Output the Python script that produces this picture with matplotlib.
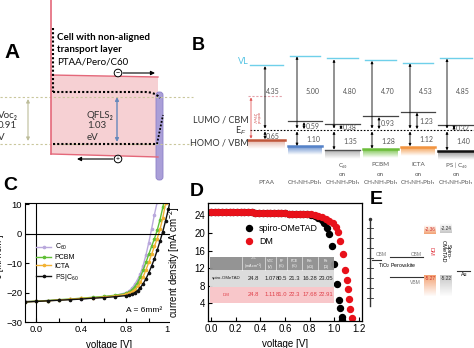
import numpy as np
import matplotlib
matplotlib.use('Agg')
import matplotlib.pyplot as plt
from matplotlib.patches import Polygon, Circle, FancyBboxPatch, Rectangle
from matplotlib.colors import to_rgb

W, H = 474, 348
plt.rcParams['font.family'] = ['Liberation Sans', 'DejaVu Sans']
plt.rcParams['mathtext.fontset'] = 'custom'
plt.rcParams['mathtext.rm'] = 'Liberation Sans'
plt.rcParams['mathtext.it'] = 'Liberation Sans:italic'
CAL = ['Lato', 'DejaVu Sans']

# ---- panel B: energy levels relative to E_F (eV) ----
b_layers = ['PTAA', 'CH₃NH₃PbI₃', 'C₆₀', 'PCBM', 'ICTA', 'PS | C₆₀']
b_vl = [4.35, 5.00, 4.80, 4.70, 4.53, 4.85]
b_cbm = [None, 0.59, 0.38, 0.93, 1.23, 0.32]
b_vbm = [0.65, 1.10, 1.35, 1.28, 1.12, 1.40]
b_gap_ptaa = 2.9
b_colors = ['#c0573a', '#5582c8', '#505050', '#6cbd3a', '#f29440', '#111111']

# ---- panel C: J-V curves ----
volt_c = [-0.1, 0.0, 0.1, 0.2, 0.3, 0.4, 0.5, 0.6, 0.7,
          0.8, 0.825, 0.85, 0.875, 0.9, 0.925, 0.95, 0.975, 1.0, 1.025,
          1.05, 1.075, 1.1, 1.125, 1.15, 1.175, 1.2, 1.225, 1.25]
j_c60 = [-23.0, -22.9, -22.7, -22.5, -22.3, -22.1, -21.8, -21.5, -21.0,
         -20.0, -19.4, -18.5, -17.2, -15.6, -13.6, -10.8, -7.2, -3.0, 1.6,
         6.5, 10.8, 16.0, 22.0, 28.0, 34.0, 40.0, 46.0, 52.0]
j_pcbm = [-23.1, -22.9, -22.7, -22.4, -22.2, -21.9, -21.6, -21.3, -20.9,
          -20.3, -19.8, -19.1, -18.0, -16.6, -14.7, -12.4, -9.7, -7.0, -4.3,
          -1.7, 1.2, 4.8, 9.0, 13.5, 18.0, 23.0, 28.0, 33.0]
j_icta = [-23.1, -23.0, -22.8, -22.5, -22.3, -22.0, -21.8, -21.5, -21.1,
          -20.6, -20.2, -19.7, -19.0, -17.9, -16.5, -14.6, -12.3, -9.7, -7.0,
          -4.3, -1.6, 1.5, 5.5, 10.5, 16.0, 22.0, 28.0, 34.0]
j_psc60 = [-23.2, -23.0, -22.8, -22.6, -22.4, -22.2, -21.9, -21.7, -21.4,
           -21.0, -20.8, -20.5, -20.0, -19.3, -18.3, -17.0, -15.3, -13.3, -11.0,
           -8.5, -5.6, -2.5, 0.8, 4.5, 8.5, 13.0, 18.0, 23.0]
c_labels = ['C$_{60}$', 'PCBM', 'ICTA', 'PS|C$_{60}$']
c_colors = ['#b9a8dc', '#5fbf35', '#f2b233', '#111111']

# ---- panel D: J-V curves ----
volt_spiro = [0.00, 0.03, 0.06, 0.09, 0.12, 0.15, 0.18, 0.21, 0.24, 0.27,
              0.30, 0.33, 0.36, 0.39, 0.42, 0.45, 0.48, 0.51, 0.54, 0.57,
              0.60, 0.63, 0.66, 0.69, 0.72, 0.75, 0.78, 0.81, 0.84, 0.87,
              0.90, 0.92, 0.94, 0.96, 0.98, 1.00, 1.02, 1.04, 1.05, 1.06, 1.065]
j_spiro = [24.8, 24.8, 24.8, 24.8, 24.8, 24.8, 24.7, 24.7, 24.7, 24.7,
           24.7, 24.7, 24.6, 24.6, 24.6, 24.6, 24.6, 24.5, 24.5, 24.5,
           24.5, 24.4, 24.4, 24.4, 24.3, 24.3, 24.2, 24.1, 23.9, 23.5,
           23.0, 22.2, 21.2, 19.8, 17.0, 13.0, 8.5, 4.8, 3.0, 1.0, 0.2]
volt_dm = [0.00, 0.03, 0.06, 0.09, 0.12, 0.15, 0.18, 0.21, 0.24, 0.27,
           0.30, 0.33, 0.36, 0.39, 0.42, 0.45, 0.48, 0.51, 0.54, 0.57,
           0.60, 0.63, 0.66, 0.69, 0.72, 0.75, 0.78, 0.81, 0.84, 0.87,
           0.90, 0.93, 0.96, 0.99, 1.01, 1.03, 1.05, 1.07, 1.09, 1.10,
           1.11, 1.12, 1.13, 1.14]
j_dm = [24.8, 24.8, 24.8, 24.8, 24.8, 24.8, 24.7, 24.7, 24.7, 24.7,
        24.7, 24.7, 24.6, 24.6, 24.6, 24.6, 24.6, 24.5, 24.5, 24.5,
        24.5, 24.4, 24.4, 24.4, 24.3, 24.3, 24.3, 24.2, 24.1, 23.9,
        23.6, 23.2, 22.8, 22.2, 21.4, 20.2, 18.2, 15.2, 11.5, 9.3,
        7.2, 5.0, 2.8, 0.6]
tab_head = ['J$_{SC}$\n(mA cm$^{-2}$)', 'V$_{OC}$\n(V)', 'FF\n(%)', 'PCE\n(%)',
            'R$_{sh}$\n(kΩ)', 'R$_{s}$\n(Ω)']
tab_fmt = ['{:.1f}', '{:.2f}', '{:.1f}', '{:.1f}', '{:.2f}', '{:.2f}']
spiro_params = [24.8, 1.07, 80.5, 21.3, 16.28, 23.05]
dm_params = [24.8, 1.11, 81.0, 22.3, 17.68, 22.91]

# ---- panel E: levels (eV) ----
e_dm = [-2.36, -5.27]
e_spiro = [-2.24, -5.22]

fig = plt.figure(figsize=(W / 100, H / 100), dpi=100)


def px_axes(l, t, r, b):
    return fig.add_axes([l / W, 1 - b / H, (r - l) / W, (b - t) / H])


def darrow(ax, x, y0, y1, color='k', lw=0.6, ms=3.5):
    ax.annotate('', xy=(x, y1), xytext=(x, y0),
                arrowprops=dict(arrowstyle='<|-|>', color=color, lw=lw,
                                mutation_scale=ms, shrinkA=0, shrinkB=0))


def grad_bar(ax, x0, x1, ytop, height, color, a0=0.85, flip=False):
    n = 24
    img = np.zeros((n, 1, 4))
    img[..., :3] = to_rgb(color)
    a = np.linspace(a0, 0.0, n)
    img[:, 0, 3] = a[::-1] if flip else a
    ax.imshow(img, extent=(x0, x1, ytop + height, ytop), aspect='auto',
              interpolation='bilinear', zorder=2)


base = fig.add_axes([0, 0, 1, 1])
base.axis('off')

# ================= panel A =================
olive = '#c9c79c'
for yy in [97, 144]:
    base.plot([0, 193], [yy, yy], color=olive, lw=0.8, ls=(0, (2, 2)))
base.add_patch(Polygon([(51, 75), (158, 77), (158, 157), (51, 154)],
                       closed=True, facecolor='#f6d0d3', edgecolor='none'))
base.plot([51, 158], [75, 77], color='#e4687a', lw=1.0)
base.plot([51, 158], [154, 157], color='#e4687a', lw=1.0)
base.plot([51, 51], [0, 154], color='#e4687a', lw=1.2)
base.add_patch(FancyBboxPatch((156, 92), 7, 88, boxstyle='round,pad=0,rounding_size=3',
                              facecolor='#aa9fd8', edgecolor='#8d80c8', lw=0.6))
dot = (0, (1, 1))
base.plot([53, 53], [28, 92], color='k', lw=1.5, ls=dot)
base.plot([53, 146, 151, 155, 158, 160], [92, 92, 92.6, 94, 96, 98], color='k', lw=1.5, ls=dot)
base.plot([53, 157], [144, 144], color='k', lw=1.5, ls=dot)
base.plot([157, 163], [144, 115], color='k', lw=1.3, ls=dot)
darrow(base, 28, 99, 141, color='#bdbd9a', lw=0.8, ms=5)
darrow(base, 117, 97, 142, color='#6688bb', lw=1.0, ms=5)
base.text(12, 52, 'A', fontsize=15, fontweight='bold', ha='center', va='center')
base.text(57, 37, 'Cell with non-aligned', family=CAL, fontsize=7, fontweight='bold', va='center')
base.text(57, 50, 'transport layer', family=CAL, fontsize=7, fontweight='bold', va='center')
base.text(57, 62, 'PTAA/Pero/C60', family=CAL, fontsize=7, va='center')
base.text(-2, 115, 'Voc₂', family=CAL, fontsize=7, va='center', color='#333333')
base.text(-2, 126, '0.91', family=CAL, fontsize=7, va='center', color='#333333')
base.text(-2, 137, 'V', family=CAL, fontsize=7, va='center', color='#333333')
base.text(87, 115, 'QFLS₂', family=CAL, fontsize=7, va='center', color='#333333')
base.text(87, 126, '1.03', family=CAL, fontsize=7, va='center', color='#333333')
base.text(87, 137, 'eV', family=CAL, fontsize=7, va='center', color='#333333')
for cx, cy, sign, x_end in [(118, 73, '−', 155), (118, 159, '+', 77)]:
    base.add_patch(Circle((cx, cy), 3.8, facecolor='white', edgecolor='k', lw=0.7, zorder=4))
    base.text(cx, cy + 0.3, sign, fontsize=5, ha='center', va='center', zorder=5)
    x_start = cx + 5 if x_end > cx else cx - 5
    base.annotate('', xy=(x_end, cy), xytext=(x_start, cy),
                  arrowprops=dict(arrowstyle='-|>', color='k', lw=0.8,
                                  mutation_scale=6, shrinkA=0, shrinkB=0))

# ================= panel B =================
EF, PXEV = 130, 14.9


def ey(e):
    return EF - e * PXEV


b_x = [(248, 285), (288, 322), (325, 360), (363, 398), (401, 435), (438, 474)]
grey = '#555555'
base.text(198, 46, 'B', fontsize=13, fontweight='bold', ha='center', va='center')
base.text(249, 62, 'VL', family=CAL, fontsize=6.5, ha='right', va='center', color='#55c4e4')
base.text(249, 120, 'LUMO / CBM', family=CAL, fontsize=6.5, ha='right', va='center', color='#333333')
base.text(246, 130.5, 'E$_F$', family=CAL, fontsize=6.5, ha='right', va='center', color='#333333')
base.text(249, 143, 'HOMO / VBM', family=CAL, fontsize=6.5, ha='right', va='center', color='#333333')
base.plot([250, 474], [EF, EF], color='k', lw=0.8, ls=(0, (1.5, 1.5)))

for i, (x0, x1) in enumerate(b_x):
    ax_arrow = x0 + (17 if i == 0 else 9)
    xl = x0 + 25
    base.plot([x0 + 2, x1 - 2], [ey(b_vl[i])] * 2, color='#6fd0ea', lw=1.0)
    darrow(base, ax_arrow, ey(b_vl[i]) + 1, EF - 1.5)
    base.text(xl, 92, f'{b_vl[i]:.2f}', family=CAL, fontsize=5, ha='center', va='center', color=grey)
    yv = ey(-b_vbm[i])
    grad_bar(base, x0, x1, yv, 9, b_colors[i], a0=0.9 if i in (1, 3, 4) else 0.45)
    base.plot([x0, x1], [yv, yv], color=b_colors[i], lw=1.8 if i != 2 else 1.0)
    darrow(base, ax_arrow, EF + 1.5, yv - 0.5)
    base.text(xl, (EF + yv) / 2 + 1.5, f'{b_vbm[i]:.2f}', family=CAL, fontsize=5,
              ha='center', va='center', color=grey)
    if b_cbm[i] is not None:
        yc = ey(b_cbm[i])
        base.plot([x0, x1], [yc, yc], color='#444444', lw=0.9)
        darrow(base, x0 + 16, yc + 1, EF - 1)
        base.text(xl, (EF + yc) / 2 + 0.5, f'{b_cbm[i]:.2f}', family=CAL, fontsize=5,
                  ha='center', va='center', color=grey)
    if i >= 2:
        base.text((x0 + x1) / 2, 165, b_layers[i], family=CAL, fontsize=4.5,
                  ha='center', va='center', color=grey)
        base.text((x0 + x1) / 2, 174, 'on', family=CAL, fontsize=4.5,
                  ha='center', va='center', color=grey)
        base.text((x0 + x1) / 2, 182.5, b_layers[1], family=CAL, fontsize=4.5,
                  ha='center', va='center', color=grey)
    else:
        base.text((x0 + x1) / 2, 182.5, b_layers[i], family=CAL, fontsize=4.5,
                  ha='center', va='center', color=grey)

# PTAA optical gap
y_lumo = ey(b_gap_ptaa - b_vbm[0])
base.plot([248, 283], [y_lumo, y_lumo], color='#e3a3ab', lw=0.8, ls=(0, (2, 1.5)))
darrow(base, 251, y_lumo + 1, ey(-b_vbm[0]) - 1, color='#e05a5a', lw=0.6)
base.text(256, (y_lumo + ey(-b_vbm[0])) / 2, 'optical\n2.9eV', family=CAL, fontsize=3,
          rotation=-90, ha='center', va='center', color='#d05050', linespacing=0.9)
base.set_xlim(0, W)
base.set_ylim(H, 0)

# ================= panel C =================
axC = px_axes(25, 203, 178, 322)
for jj, lab, col in zip([j_c60, j_pcbm, j_icta, j_psc60], c_labels, c_colors):
    axC.plot(volt_c, jj, color=col, lw=1.0, marker='o', ms=1.6, label=lab)
axC.axhline(0, color='k', lw=0.8)
axC.axvline(0, color='k', lw=0.8)
axC.set_xlim(-0.1, 1.26)
axC.set_ylim(-30, 10.5)
axC.set_xticks([0.0, 0.4, 0.8, 1.2])
axC.set_xticklabels(['0.0', '0.4', '0.8', '1.2'])
axC.set_xticks([0.2, 0.6, 1.0], minor=True)
axC.set_yticks([-30, -20, -10, 0, 10])
axC.tick_params(which='both', direction='in', length=3, labelsize=6.8, pad=2, width=0.8)
for s in axC.spines.values():
    s.set_linewidth(0.8)
axC.set_xlabel('voltage [V]', fontsize=7)
axC.xaxis.set_label_coords(0.55, -0.155)
axC.set_ylabel('J [mA /cm²]', fontsize=6.2)
axC.yaxis.set_label_coords(-0.135, 0.55)
axC.legend(loc='upper left', bbox_to_anchor=(0.05, 0.70), fontsize=5, frameon=False,
           handlelength=2.2, labelspacing=0.25, borderpad=0, handletextpad=0.5)
axC.text(0.66, 0.08, 'A = 6mm²', transform=axC.transAxes, fontsize=6)

# ================= cover + panel E =================
cover = px_axes(170, 184, 474, 348)
cover.set_facecolor('white')
cover.set_xticks([])
cover.set_yticks([])
for s in cover.spines.values():
    s.set_visible(False)
cover.plot([370, 370], [219, 306], color='#333333', lw=1.0)
cover.plot([370], [219], marker='o', ms=1.5, color='#333333')
for ty in np.arange(228, 305, 10):
    cover.plot([367, 373], [ty, ty], color='#333333', lw=0.6)
lv = '#777777'
cover.plot([372, 381], [260, 260], color='#333333', lw=0.8)
cover.plot([390, 423], [257, 257], color='#333333', lw=0.8)
cover.plot([390, 423], [277, 277], color='#333333', lw=0.8)
cover.plot([457, 470], [271, 271], color='#333333', lw=0.8)
cover.text(381, 255, 'CBM', fontsize=3.6, ha='center', va='center', color=lv)
cover.text(416, 254, 'CBM', fontsize=3.6, ha='center', va='center', color=lv)
cover.text(415, 282, 'VBM', fontsize=3.6, ha='center', va='center', color=lv)
cover.text(378, 266, 'TiO$_2$ Perovskite', fontsize=3.8, ha='left', va='center')
cover.text(464, 275, 'Au', fontsize=3.8, ha='center', va='center')
grad_bar(cover, 424, 436, 225, 9, '#f08a50', a0=0.8, flip=True)
grad_bar(cover, 440, 452, 223, 10, '#999999', a0=0.55, flip=True)
grad_bar(cover, 424, 436, 275, 22, '#f08a50', a0=0.8)
grad_bar(cover, 440, 452, 275, 22, '#999999', a0=0.55)
cover.text(430, 229.5, f'{e_dm[0]:.2f}', fontsize=3.4, ha='center', va='center', color='#d0302a')
cover.text(446, 228, f'{e_spiro[0]:.2f}', fontsize=3.4, ha='center', va='center', color='#333333')
cover.text(430, 278, f'{e_dm[1]:.2f}', fontsize=3.4, ha='center', va='center', color='#d0302a')
cover.text(446, 278, f'{e_spiro[1]:.2f}', fontsize=3.4, ha='center', va='center', color='#333333')
cover.text(431, 251, 'DM', fontsize=4, rotation=-90, ha='center', va='center', color='#e0303a')
cover.text(446, 251, 'Spiro-\nOMeTAD', fontsize=4, rotation=-90, ha='center', va='center',
           linespacing=0.95)
cover.set_xlim(170, 474)
cover.set_ylim(348, 184)

# ================= panel D =================
axD = px_axes(208, 203, 362, 321)
axD.plot(volt_spiro, j_spiro, color='k', lw=0, marker='o', ms=4.3, label='spiro-OMeTAD')
axD.plot(volt_dm, j_dm, color='#e8111a', lw=0, marker='o', ms=4.3, label='DM')
axD.set_xlim(-0.025, 1.225)
axD.set_ylim(0, 26.8)
axD.set_xticks([0.0, 0.2, 0.4, 0.6, 0.8, 1.0, 1.2])
axD.set_xticklabels(['0.0', '0.2', '0.4', '0.6', '0.8', '1.0', '1.2'])
axD.set_yticks([4, 8, 12, 16, 20, 24])
axD.tick_params(direction='in', length=3, labelsize=7, pad=2, width=0.8)
for s in axD.spines.values():
    s.set_linewidth(0.9)
axD.set_xlabel('voltage [V]', fontsize=7)
axD.xaxis.set_label_coords(0.5, -0.155)
axD.set_ylabel('current density [mA cm$^{-2}$]', fontsize=7)
axD.yaxis.set_label_coords(-0.17, 0.5)
axD.legend(loc='upper left', bbox_to_anchor=(0.21, 0.86), fontsize=6.4, frameon=False,
           handlelength=1.0, labelspacing=0.45, borderpad=0, handletextpad=0.6)

# ================= overlay: table, letters =================
ov = fig.add_axes([0, 0, 1, 1])
ov.axis('off')
ov.set_zorder(10)
col_x = [210, 242, 265, 276, 287, 302, 318, 334]
rows_y = [257, 270, 287, 303]
ov.add_patch(Rectangle((col_x[0], rows_y[0]), col_x[-1] - col_x[0], rows_y[1] - rows_y[0],
                       facecolor='#8e8e8e', edgecolor='none', alpha=0.95))
ov.add_patch(Rectangle((col_x[0], rows_y[1]), col_x[-1] - col_x[0], rows_y[2] - rows_y[1],
                       facecolor='#dadada', edgecolor='none', alpha=0.95))
ov.add_patch(Rectangle((col_x[0], rows_y[2]), col_x[-1] - col_x[0], rows_y[3] - rows_y[2],
                       facecolor='#f8c4c8', edgecolor='none', alpha=0.95))
for k in range(1, len(col_x) - 1):
    ov.plot([col_x[k], col_x[k]], [rows_y[0], rows_y[1]], color='white', lw=0.4)
for k, hd in enumerate(tab_head):
    xc = (col_x[k + 1] + col_x[k + 2]) / 2
    ov.text(xc, (rows_y[0] + rows_y[1]) / 2, hd, fontsize=2.6, ha='center', va='center',
            color='white', linespacing=1.0)
    ov.text(xc, (rows_y[1] + rows_y[2]) / 2, tab_fmt[k].format(spiro_params[k]),
            fontsize=4.2, ha='center', va='center', color='#222222')
    ov.text(xc, (rows_y[2] + rows_y[3]) / 2, tab_fmt[k].format(dm_params[k]),
            fontsize=4.2, ha='center', va='center', color='#e0404a')
ov.text((col_x[0] + col_x[1]) / 2, (rows_y[1] + rows_y[2]) / 2, 'spiro-OMeTAD',
        fontsize=3.2, ha='center', va='center', color='#222222')
ov.text((col_x[0] + col_x[1]) / 2, (rows_y[2] + rows_y[3]) / 2, 'DM',
        fontsize=3.2, ha='center', va='center', color='#e0404a')
ov.text(10, 186, 'C', fontsize=14, fontweight='bold', ha='center', va='center')
ov.text(197, 191, 'D', fontsize=14, fontweight='bold', ha='center', va='center')
ov.text(376, 200, 'E', fontsize=14, fontweight='bold', ha='center', va='center')
ov.set_xlim(0, W)
ov.set_ylim(H, 0)

fig.savefig('out.png', dpi=100)
